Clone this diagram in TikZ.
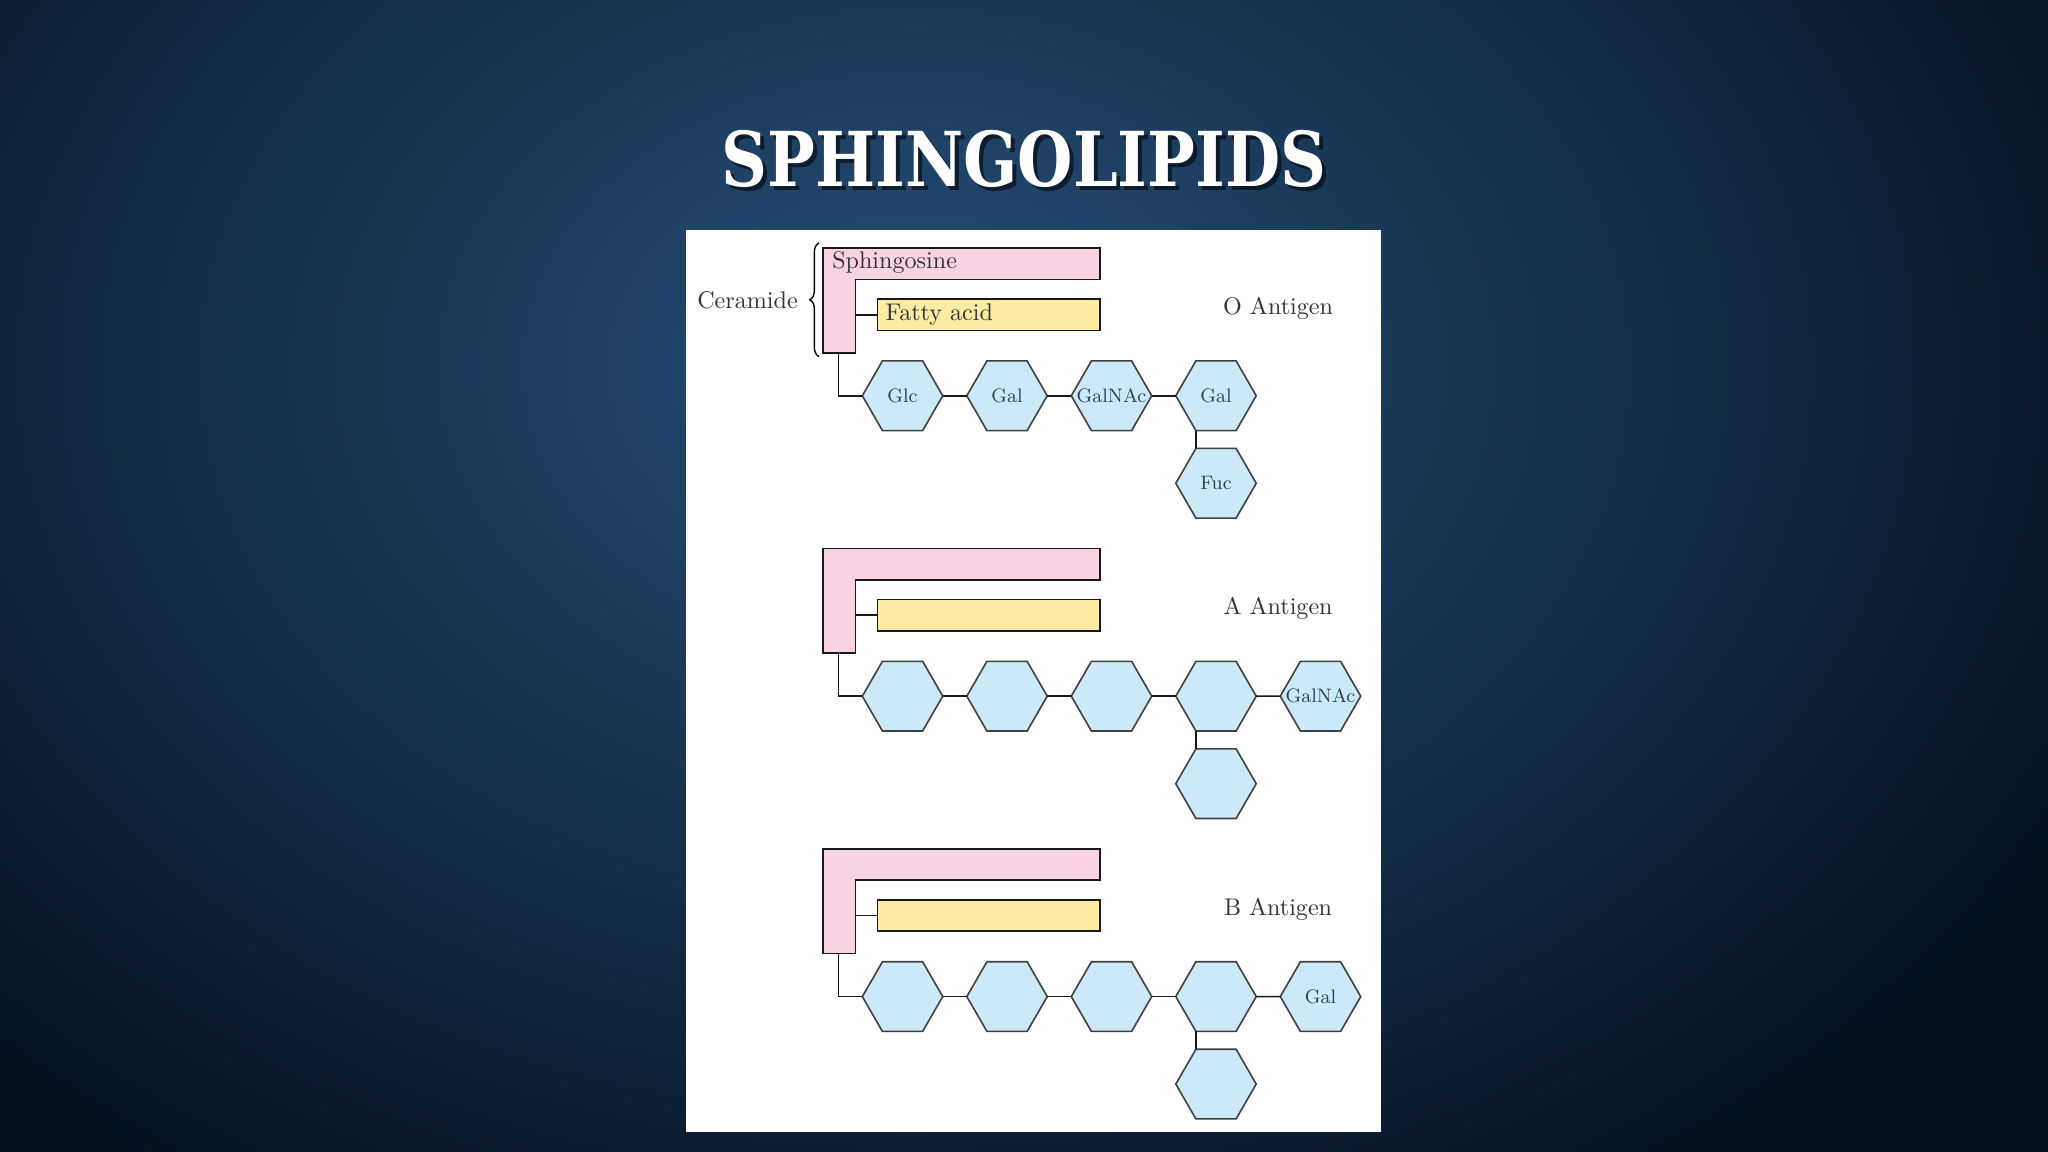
\documentclass[tikz,border=0pt]{standalone}
\usepackage{fontspec}
\newfontfamily\titlefont{DejaVu Serif}
\usetikzlibrary{shapes.geometric, calc, decorations.pathreplacing}

\definecolor{bgdark}{HTML}{061220}
\definecolor{bglight}{HTML}{26507A}
\definecolor{sphpink}{HTML}{F9D3E4}
\definecolor{fatyellow}{HTML}{FCEBA3}
\definecolor{sugarblue}{HTML}{CCE9F8}
\definecolor{sugartext}{HTML}{2E3F5C}

\tikzset{
  sugar/.style={regular polygon, regular polygon sides=6, minimum size=1.232cm,
    inner sep=0pt, outer sep=0pt, draw=black!75, line width=0.7pt, fill=sugarblue,
    font=\fontsize{8.5}{9}\selectfont, text=sugartext},
  fatbar/.style={rectangle, draw=black!90, line width=0.8pt, fill=fatyellow,
    minimum width=3.41cm, minimum height=0.48cm, inner sep=0pt, outer sep=0pt},
  lipid/.style={draw=black!90, line width=0.8pt},
  bond/.style={draw=black!90, line width=0.7pt},
  lbl/.style={font=\fontsize{10.5}{12}\selectfont, text=black!80},
}

% sugar name, allowed to run over the hexagon edge
\newcommand{\sug}[1]{\makebox[0pt]{#1}}

% sphingosine + fatty acid block of one ceramide
\newcommand{\ceramide}{%
  \filldraw[lipid, fill=sphpink] (630,190) -- (842,190) -- (842,214) -- (655,214)
    -- (655,270) -- (630,270) -- cycle;
  \node[fatbar] (fa) at (757,241) {};
  \coordinate (sphjoin) at (655,241);
  \coordinate (sphfoot) at (642,270);
  \draw[bond] (sphjoin) -- (fa.west);
}

\begin{document}
\begin{tikzpicture}[x=0.02cm, y=-0.02cm]
    % Slide background
    \fill[bgdark] (0,0) rectangle (1568,882);
    \begin{scope}
      \clip (0,0) rectangle (1568,882);
      \shade[inner color=bglight, outer color=bgdark] (700,280) ellipse (1000 and 750);
    \end{scope}
    \useasboundingbox (0,0) rectangle (1568,882);

    % Title with shadow
    \node[font=\titlefont\bfseries\fontsize{33}{36}\selectfont, text=black, opacity=0.55]
      (shadow) at (787,124.5) {\scalebox{0.84}[1]{SPHINGOLIPIDS}};
    \node[font=\titlefont\bfseries\fontsize{33}{36}\selectfont, text=white]
      (title) at (784,121.5) {\scalebox{0.84}[1]{SPHINGOLIPIDS}};

    % White panel
    \fill[white] (525,176) rectangle (1057,867);

    % O antigen
    \begin{scope}[name prefix=O-]
      \ceramide
      \node[lbl, anchor=west] (sph) at (631,201) {Sphingosine};
      \node[lbl, anchor=west] (fatty) at (fa.west) {Fatty acid};
      \draw[decorate, decoration={brace, amplitude=4pt}, line width=0.6pt] (627,273) -- (627,186);
      \node[lbl, anchor=east] (cer) at (617,230) {Ceramide};
      \node[lbl] (name) at (978.5,236) {O Antigen};
      \node[sugar] (h1) at (691,303) {\sug{Glc}};
      \node[sugar] (h2) at (771,303) {\sug{Gal}};
      \node[sugar] (h3) at (851,303) {\sug{GalNAc}};
      \node[sugar] (h4) at (931,303) {\sug{Gal}};
      \node[sugar] (low) at (931,370) {\sug{Fuc}};
      \draw[bond] (sphfoot) |- (h1.west);
      \draw[bond] (h1.east) -- (h2.west);
      \draw[bond] (h2.east) -- (h3.west);
      \draw[bond] (h3.east) -- (h4.west);
      \draw[bond] ([xshift=-0.31cm]h4.south) -- ([xshift=-0.31cm]low.north);
    \end{scope}

    % A antigen
    \begin{scope}[shift={(0,230)}, name prefix=A-]
      \ceramide
      \node[lbl] (name) at (978.5,236) {A Antigen};
      \node[sugar] (h1) at (691,303) {};
      \node[sugar] (h2) at (771,303) {};
      \node[sugar] (h3) at (851,303) {};
      \node[sugar] (h4) at (931,303) {};
      \node[sugar] (h5) at (1011,303) {\sug{GalNAc}};
      \node[sugar] (low) at (931,370) {};
      \draw[bond] (sphfoot) |- (h1.west);
      \draw[bond] (h1.east) -- (h2.west);
      \draw[bond] (h2.east) -- (h3.west);
      \draw[bond] (h3.east) -- (h4.west);
      \draw[bond] (h4.east) -- (h5.west);
      \draw[bond] ([xshift=-0.31cm]h4.south) -- ([xshift=-0.31cm]low.north);
    \end{scope}

    % B antigen
    \begin{scope}[shift={(0,460)}, name prefix=B-]
      \ceramide
      \node[lbl] (name) at (978.5,236) {B Antigen};
      \node[sugar] (h1) at (691,303) {};
      \node[sugar] (h2) at (771,303) {};
      \node[sugar] (h3) at (851,303) {};
      \node[sugar] (h4) at (931,303) {};
      \node[sugar] (h5) at (1011,303) {\sug{Gal}};
      \node[sugar] (low) at (931,370) {};
      \draw[bond] (sphfoot) |- (h1.west);
      \draw[bond] (h1.east) -- (h2.west);
      \draw[bond] (h2.east) -- (h3.west);
      \draw[bond] (h3.east) -- (h4.west);
      \draw[bond] (h4.east) -- (h5.west);
      \draw[bond] ([xshift=-0.31cm]h4.south) -- ([xshift=-0.31cm]low.north);
    \end{scope}
\end{tikzpicture}
\end{document}
